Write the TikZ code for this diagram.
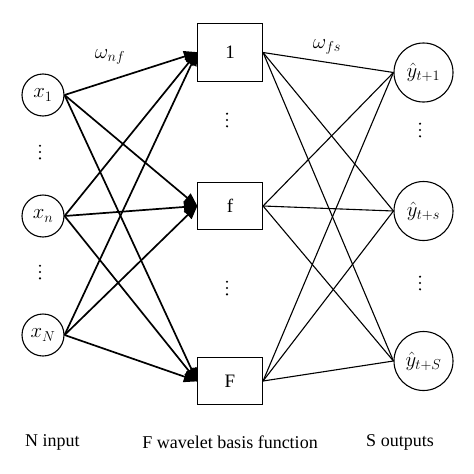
\documentclass[tikz,border=0pt]{standalone}
\usepackage{fontspec}
\setmainfont{Liberation Serif}
\usetikzlibrary{arrows.meta}
\begin{document}
\begin{tikzpicture}[x=1pt,y=-1pt,
  every node/.style={font=\fontsize{18}{21}\selectfont},
  mathlbl/.style={font=\fontsize{21}{24}\selectfont},
  boxlbl/.style={font=\fontsize{19}{22}\selectfont},
  innode/.style={circle,draw,line width=1.1pt,minimum size=42pt,inner sep=0pt,mathlbl},
  outnode/.style={circle,draw,line width=1.1pt,minimum size=59pt,inner sep=0pt,mathlbl},
  hidnode/.style={rectangle,draw,line width=1.1pt,minimum width=65pt,minimum height=47pt,inner sep=0pt,boxlbl},
  inarrow/.style={line width=1.7pt,-{Triangle[length=14pt,width=11pt]},shorten >=-1pt},
  outline/.style={line width=1.1pt},
  dotmark/.style={fill=black}]
\useasboundingbox (0,0) rectangle (474,474);
\node[innode] (x1) at (43,95) {$x_1$};
\node[innode] (xn) at (43,216) {$x_n$};
\node[innode] (xN) at (43,335) {$x_N$};
\node[hidnode,minimum height=58pt] (h1) at (230,52.5) {1};
\node[hidnode] (hf) at (230,206) {f};
\node[hidnode] (hF) at (230,381) {F};
\node[outnode] (y1) at (423.5,72.5) {$\hat{y}_{t+1}$};
\node[outnode] (ys) at (423.5,211) {$\hat{y}_{t+s}$};
\node[outnode] (yS) at (423.5,361) {$\hat{y}_{t+S}$};
\foreach \i in {x1,xn,xN}{
  \foreach \j in {h1,hf,hF}{
    \draw[inarrow] (\i.east) -- (\j.west);
  }
}
\foreach \j in {h1,hf,hF}{
  \foreach \k in {y1,ys,yS}{
    \draw[outline] (\j.east) -- (\k.west);
  }
}
\foreach \cx/\cy in {40/152,40/272,227/120,227/288,420/130,420/283}{
  \foreach \dy in {-6.3,0,6.3}{
    \fill[dotmark] (\cx,\cy+\dy) circle (1.2pt);
  }
}
\node[mathlbl] (wnf) at (110,57) {$\omega_{nf}$};
\node[mathlbl] (wfs) at (327,47) {$\omega_{fs}$};
\node (l1) at (52.5,442) {N input};
\node (l2) at (230,442) {F wavelet basis function};
\node (l3) at (400,442) {S outputs};
\end{tikzpicture}
\end{document}
